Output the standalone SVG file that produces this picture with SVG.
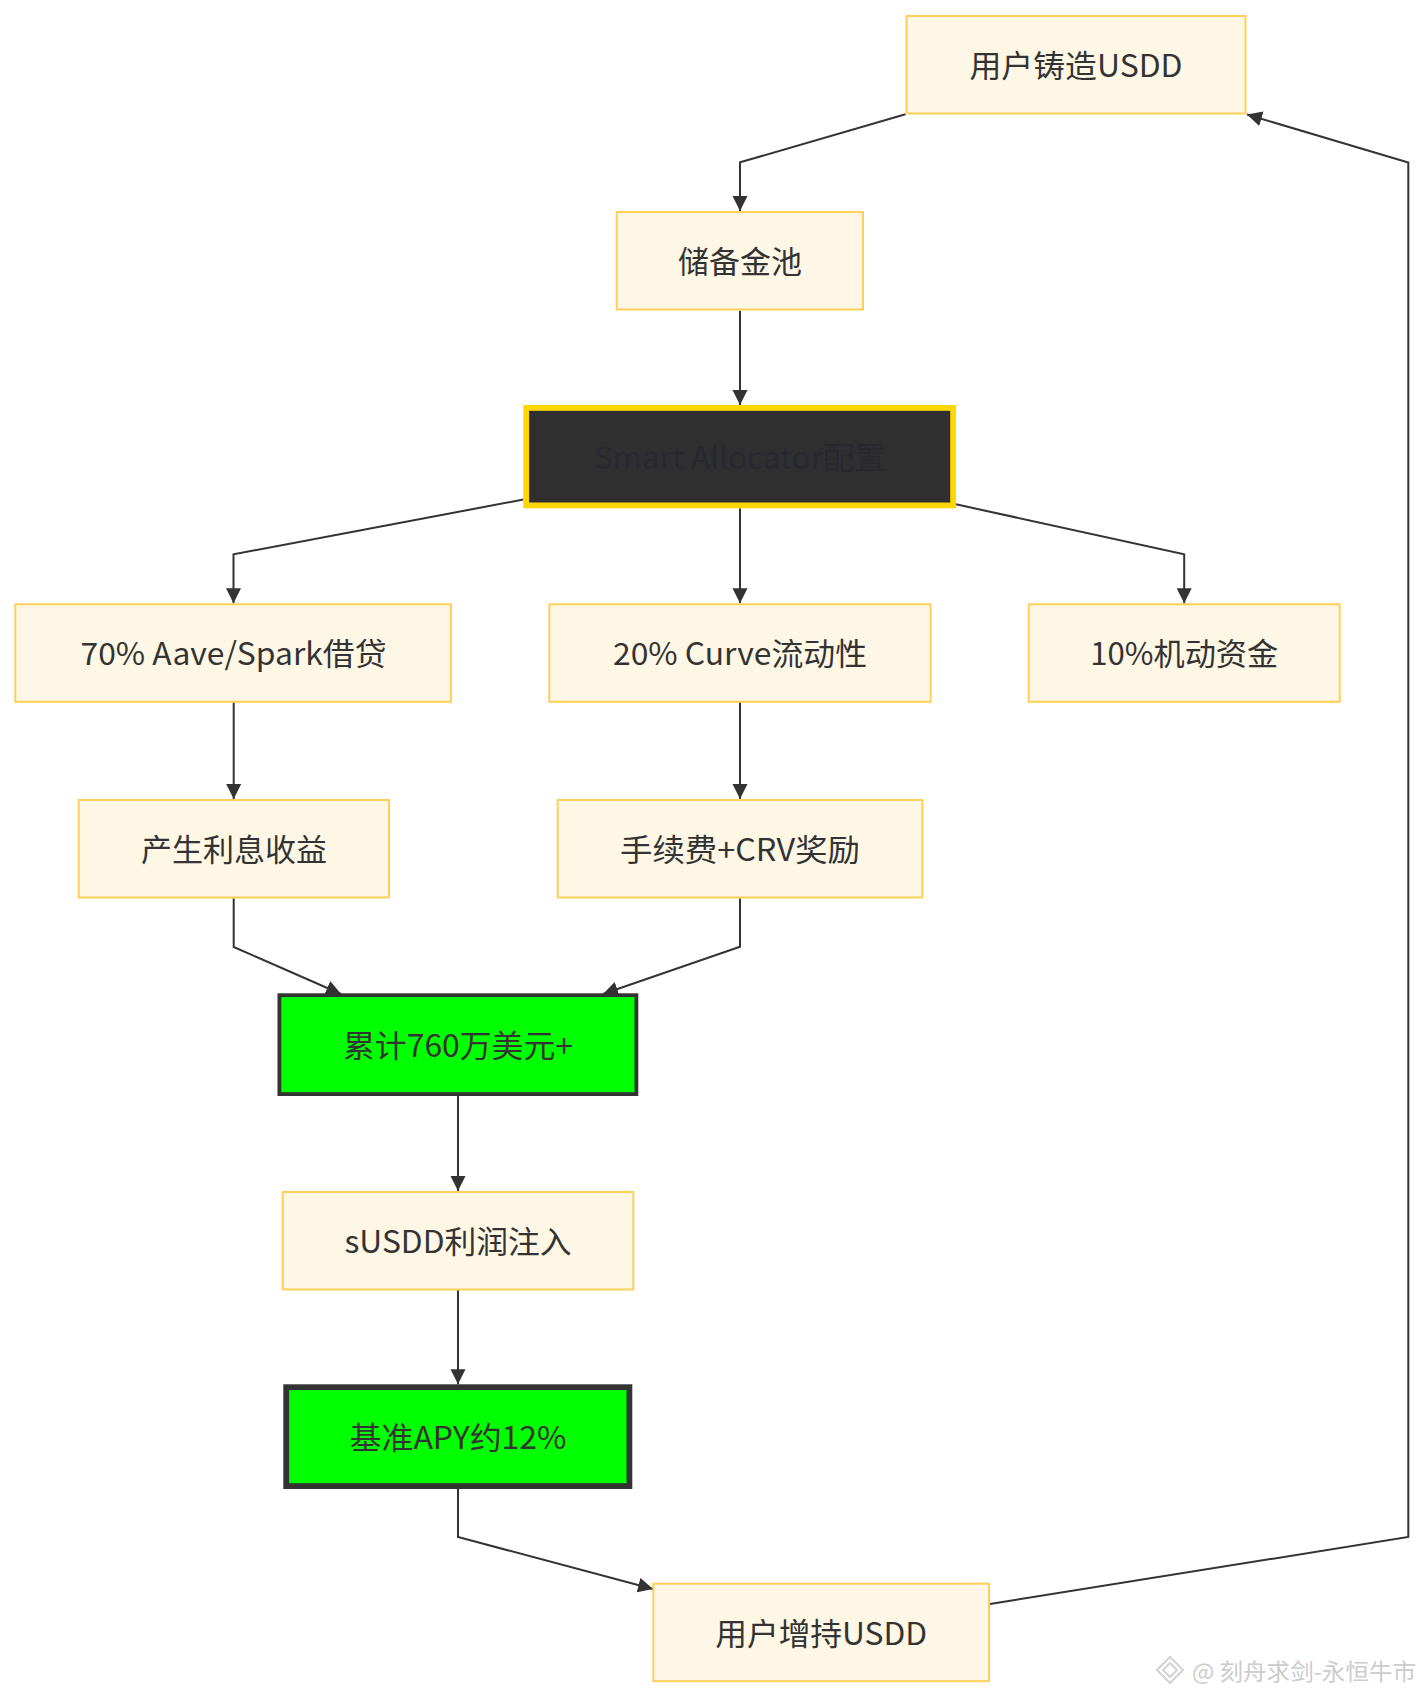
<svg xmlns="http://www.w3.org/2000/svg" width="1424" height="1698" viewBox="0 0 1424 1698">
<defs>
<style>
.n rect{fill:#fff7e6;stroke:#ffcf57;stroke-width:2}
.g rect{fill:#00ff00;stroke:#333333}
.t{font-family:"Noto Sans CJK SC","Noto Sans",sans-serif;font-size:31px;fill:#333333;text-anchor:middle;dominant-baseline:central}
.e path{fill:none;stroke:#333333;stroke-width:2}
.wm{font-family:"Noto Sans CJK SC",sans-serif;font-size:23px;fill:#cccccc}
</style>
<marker id="ah" markerUnits="userSpaceOnUse" markerWidth="16" markerHeight="16" viewBox="0 0 16 16" refX="15" refY="8" orient="auto">
<path d="M0,0.5 L15,8 L0,15.5 z" fill="#333333"/>
</marker>
</defs>
<rect width="1424" height="1698" fill="#ffffff"/>
<g id="connectors" class="e">
<path d="M905.5,114.3 L740,162.3 L740,211" marker-end="url(#ah)"/>
<path d="M740,310.7 L740,405" marker-end="url(#ah)"/>
<path d="M523.5,499.5 L233.5,554.3 L233.5,603.3" marker-end="url(#ah)"/>
<path d="M740,508.3 L740,603.3" marker-end="url(#ah)"/>
<path d="M956,504.3 L1184.2,554.3 L1184.2,603.3" marker-end="url(#ah)"/>
<path d="M233.7,702.3 L233.7,799" marker-end="url(#ah)"/>
<path d="M740,702.3 L740,799" marker-end="url(#ah)"/>
<path d="M233.7,898.3 L233.7,947 L341,994" marker-end="url(#ah)"/>
<path d="M740,898.3 L740,946.7 L603,994" marker-end="url(#ah)"/>
<path d="M458,1096 L458,1191" marker-end="url(#ah)"/>
<path d="M458,1290 L458,1384.3" marker-end="url(#ah)"/>
<path d="M458,1489 L458,1537 L653,1589" marker-end="url(#ah)"/>
<path d="M990,1604 L1408.3,1537 L1408.3,162.5 L1247,114.5" marker-end="url(#ah)"/>
</g>
<g id="n1" class="n"><rect x="906.5" y="16" width="339" height="97.5"/><text class="t" x="1076" y="63.2" textLength="213" lengthAdjust="spacingAndGlyphs">用户铸造USDD</text></g>
<g id="n2" class="n"><rect x="616.7" y="212" width="246.3" height="97.5"/><text class="t" x="740" y="259.2">储备金池</text></g>
<g id="n3"><rect x="526.2" y="407.9" width="426.9" height="97.5" fill="#2f2f2f" stroke="#ffd700" stroke-width="5.8"/><text class="t" x="740" y="455.2" style="fill:#28282f" textLength="292" lengthAdjust="spacingAndGlyphs">Smart Allocator配置</text></g>
<g id="n4" class="n"><rect x="15.3" y="604.3" width="435.7" height="97.5"/><text class="t" x="233.5" y="651.3" textLength="306" lengthAdjust="spacingAndGlyphs">70% Aave/Spark借贷</text></g>
<g id="n5" class="n"><rect x="549.3" y="604.3" width="381.4" height="97.5"/><text class="t" x="740" y="651.3" textLength="254" lengthAdjust="spacingAndGlyphs">20% Curve流动性</text></g>
<g id="n6" class="n"><rect x="1028.7" y="604.3" width="311" height="97.5"/><text class="t" x="1184.2" y="651.3" textLength="188" lengthAdjust="spacingAndGlyphs">10%机动资金</text></g>
<g id="n7" class="n"><rect x="78.7" y="800" width="310.3" height="97.5"/><text class="t" x="233.9" y="847.2">产生利息收益</text></g>
<g id="n8" class="n"><rect x="557.7" y="800" width="364.6" height="97.5"/><text class="t" x="740" y="847.2" textLength="240" lengthAdjust="spacingAndGlyphs">手续费+CRV奖励</text></g>
<g id="n9" class="g"><rect x="279.4" y="995.2" width="357" height="98.9" stroke-width="3.8"/><text class="t" x="458" y="1043.2" textLength="230" lengthAdjust="spacingAndGlyphs">累计760万美元+</text></g>
<g id="n10" class="n"><rect x="282.7" y="1192" width="350.6" height="97.5"/><text class="t" x="458" y="1239" textLength="227" lengthAdjust="spacingAndGlyphs">sUSDD利润注入</text></g>
<g id="n11" class="g"><rect x="286.2" y="1387.2" width="343.2" height="98.9" stroke-width="5.8"/><text class="t" x="458" y="1435.2" textLength="217" lengthAdjust="spacingAndGlyphs">基准APY约12%</text></g>
<g id="n12" class="n"><rect x="653.3" y="1583.7" width="335.7" height="97.5"/><text class="t" x="821.2" y="1631" textLength="212" lengthAdjust="spacingAndGlyphs">用户增持USDD</text></g>
<g id="watermark">
<path d="M1170,1657 L1183,1670 L1170,1683 L1157,1670 Z M1170,1663 L1177,1670 L1170,1677 L1163,1670 Z" fill="none" stroke="#d2d2d2" stroke-width="2"/>
<text class="wm" x="1416" y="1680" text-anchor="end" textLength="224" lengthAdjust="spacingAndGlyphs">@ 刻舟求剑-永恒牛市</text>
</g>
</svg>
